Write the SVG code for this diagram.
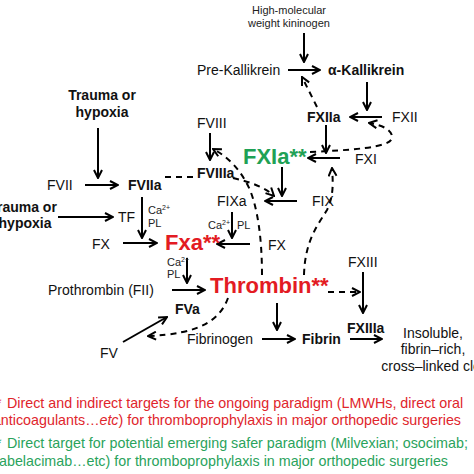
<svg xmlns="http://www.w3.org/2000/svg" width="474" height="474" viewBox="0 0 474 474">
<defs>
<marker id="ah" viewBox="0 0 10 10" refX="9" refY="5" markerWidth="10" markerHeight="10" markerUnits="userSpaceOnUse" orient="auto">
<path d="M1,1 L9,5 L1,9" fill="none" stroke="#000" stroke-width="2" stroke-dasharray="none"/>
</marker>
</defs>
<style>
text{font-family:"Liberation Sans",Arial,sans-serif;font-size:14px;fill:#111}
.b{font-weight:bold}
.s{font-size:11px;fill:#222}
.red{fill:#e31b23;font-weight:bold;font-size:22px}
.grn{fill:#1fa155;font-weight:bold;font-size:22px}
.lr{fill:#e0252c;font-size:14.3px}
.lg{fill:#2aa35c;font-size:14.3px}
.m{text-anchor:middle}
.e{text-anchor:end}
.a{stroke:#000;stroke-width:2;fill:none;marker-end:url(#ah)}
.d{stroke:#000;stroke-width:2;fill:none;stroke-dasharray:6 5}
.dh{stroke:#000;stroke-width:2;fill:none;stroke-dasharray:6 5;marker-end:url(#ah)}
</style>
<rect width="474" height="474" fill="#fff"/>
<g id="connectors">
<line class="a" x1="304" y1="33" x2="304" y2="62"/>
<line class="a" x1="288" y1="70" x2="320" y2="70"/>
<line class="a" x1="367" y1="82" x2="367" y2="110"/>
<line class="a" x1="382" y1="117" x2="350" y2="117"/>
<line class="a" x1="326" y1="125" x2="326" y2="153"/>
<line class="a" x1="340" y1="158" x2="308" y2="158"/>
<line class="a" x1="210" y1="133" x2="210" y2="160"/>
<line class="a" x1="282" y1="167" x2="282" y2="196"/>
<line class="a" x1="297" y1="201" x2="265" y2="201"/>
<line class="a" x1="232" y1="212" x2="232" y2="238"/>
<line class="a" x1="250" y1="244" x2="217" y2="244"/>
<line class="a" x1="98" y1="128" x2="98" y2="178"/>
<line class="a" x1="85" y1="185" x2="118" y2="185"/>
<line class="a" x1="58" y1="217" x2="113" y2="217"/>
<line class="a" x1="142" y1="197" x2="142" y2="238"/>
<line class="a" x1="123" y1="243" x2="157" y2="243"/>
<line class="a" x1="187" y1="258" x2="187" y2="283"/>
<line class="a" x1="172" y1="290" x2="205" y2="290"/>
<line class="a" x1="123" y1="342" x2="167" y2="317"/>
<line class="a" x1="277" y1="303" x2="277" y2="330"/>
<line class="a" x1="262" y1="339" x2="295" y2="339"/>
<line class="a" x1="363" y1="272" x2="363" y2="313"/>
<line class="a" x1="350" y1="339" x2="382" y2="339"/>
<line class="dh" x1="317" y1="107" x2="302" y2="77"/>
<path class="dh" d="M310,152 C350,150 390,148 392,138 C393,130 382,125 369,123"/>
<line class="d" x1="165" y1="177" x2="195" y2="177"/>
<path class="dh" d="M262,275 C262,240 258,210 250,190 C242,172 230,158 213,149"/>
<path class="dh" d="M233,178 C250,182 265,187 274,196"/>
<path class="dh" d="M304,275 C305,240 318,225 327,210 C334,195 333,182 332,168"/>
<path class="dh" d="M228,298 C220,320 200,334 148,336"/>
<line class="dh" x1="328" y1="292" x2="360" y2="292"/>
</g>
<g id="hmwk"><text class="s m" x="289" y="14">High-molecular</text><text class="s m" x="289" y="27">weight kininogen</text></g>
<g id="prekallikrein"><text x="197" y="75">Pre-Kallikrein</text></g>
<g id="akallikrein"><text class="b" x="328" y="75">α-Kallikrein</text></g>
<g id="fxiia"><text class="b" x="307" y="122">FXIIa</text></g>
<g id="fxii"><text x="392" y="122">FXII</text></g>
<g id="fxia"><text class="grn" x="243" y="164">FXIa**</text></g>
<g id="fxi"><text x="355" y="164">FXI</text></g>
<g id="fviii"><text x="197" y="128">FVIII</text></g>
<g id="fviiia"><text class="b" x="197" y="178">FVIIIa</text></g>
<g id="fixa"><text x="217" y="206">FIXa</text></g>
<g id="fix"><text x="312" y="206">FIX</text></g>
<g id="ca1"><text class="s" x="208" y="229">Ca<tspan font-size="7" dy="-4">2+</tspan></text><text class="s" x="237" y="229">PL</text></g>
<g id="fx-right"><text x="268" y="250">FX</text></g>
<g id="fxa"><text class="red" x="165" y="250">Fxa**</text></g>
<g id="fx-left"><text x="92" y="249">FX</text></g>
<g id="trauma1"><text class="b m" x="102" y="100">Trauma or</text><text class="b m" x="102" y="117">hypoxia</text></g>
<g id="fvii"><text x="47" y="190">FVII</text></g>
<g id="fviia"><text class="b" x="128" y="190">FVIIa</text></g>
<g id="trauma2"><text class="b m" x="23" y="212">Trauma or</text><text class="b m" x="25" y="228">hypoxia</text></g>
<g id="tf"><text x="118" y="222">TF</text></g>
<g id="ca2"><text class="s" x="148" y="214">Ca<tspan font-size="7" dy="-4">2+</tspan></text><text class="s" x="148" y="227">PL</text></g>
<g id="ca3"><text class="s" x="167" y="266">Ca<tspan font-size="7" dy="-4">2+</tspan></text><text class="s" x="167" y="278">PL</text></g>
<g id="prothrombin"><text x="48" y="295">Prothrombin (FII)</text></g>
<g id="thrombin"><text class="red" x="210" y="293">Thrombin**</text></g>
<g id="fva"><text class="b" x="175" y="314">FVa</text></g>
<g id="fv"><text x="100" y="358">FV</text></g>
<g id="fibrinogen"><text x="187" y="344">Fibrinogen</text></g>
<g id="fibrin"><text class="b" x="302" y="344">Fibrin</text></g>
<g id="fxiii"><text x="348" y="267">FXIII</text></g>
<g id="fxiiia"><text class="b" x="347" y="333">FXIIIa</text></g>
<g id="clot"><text class="m" x="433" y="338">Insoluble,</text><text class="m" x="433" y="354">fibrin–rich,</text><text class="m" x="433" y="371">cross–linked clot</text></g>
<g id="legend">
<text class="lr e" x="1.5" y="408">**</text>
<text class="lr" x="7" y="408">Direct and indirect targets for the ongoing paradigm (LMWHs, direct oral</text>
<text class="lr e" x="461" y="425">anticoagulants…<tspan font-style="italic">etc</tspan>) for thromboprophylaxis in major orthopedic surgeries</text>
<text class="lg e" x="1.5" y="448">**</text>
<text class="lg" x="7" y="448">Direct target for potential emerging safer paradigm (Milvexian; osocimab;</text>
<text class="lg e" x="448" y="466">abelacimab…etc) for thromboprophylaxis in major orthopedic surgeries</text>
</g>
</svg>
